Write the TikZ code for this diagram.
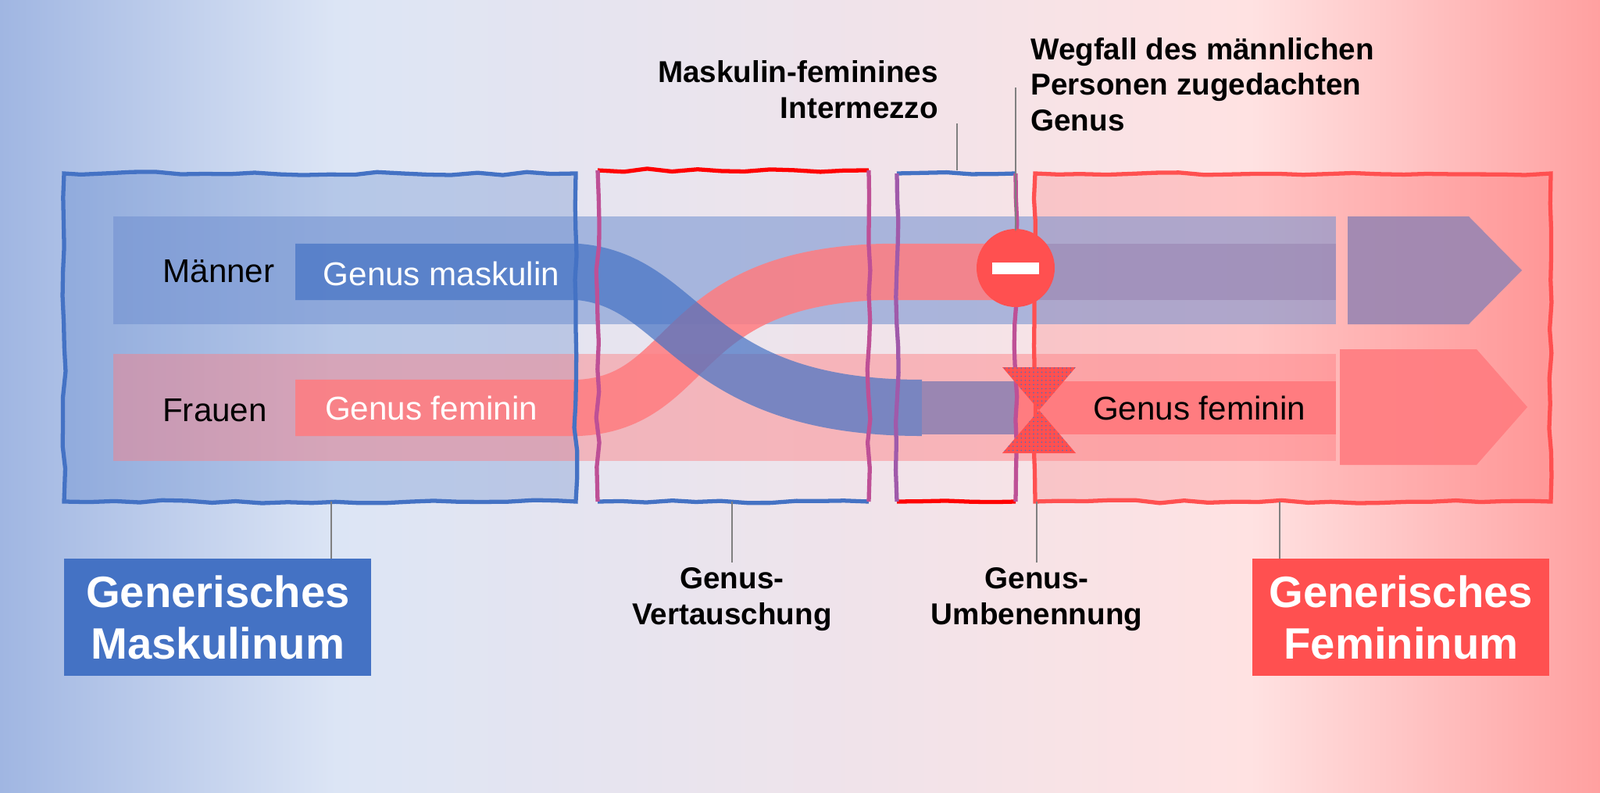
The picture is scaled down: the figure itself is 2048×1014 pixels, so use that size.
\documentclass[tikz,border=0pt]{standalone}
\usepackage{fontspec}
\setmainfont{Liberation Sans}
\usetikzlibrary{decorations.pathmorphing,patterns}
\definecolor{gmblue}{HTML}{4472C4}
\definecolor{gfred}{HTML}{FF5050}
\definecolor{bandblue}{HTML}{6F8FD0}
\definecolor{bandred}{HTML}{FF7C80}
\definecolor{mixpurple}{HTML}{9A86B2}
\definecolor{sidepurple}{HTML}{BE5096}
\definecolor{sideviolet}{HTML}{A05AAA}
\definecolor{bgblue}{HTML}{A0B6E2}
\definecolor{bglight}{HTML}{DCE5F5}
\definecolor{bgpink}{HTML}{FFE2E2}
\definecolor{bgred}{HTML}{FFA0A0}
\tikzset{
  wavy/.style={line width=3pt,decorate,decoration={random steps,segment length=18,amplitude=1.2}},
  leader/.style={draw=gray,line width=0.6pt},
  lbl/.style={font=\bfseries\fontsize{22}{26}\selectfont,align=center},
  bigbox/.style={text=white,font=\bfseries\fontsize{32}{38}\selectfont,align=center,minimum width=393*0.02cm,minimum height=150*0.02cm},
  band/.style={font=\fontsize{24}{28}\selectfont}
}
\begin{document}
\begin{tikzpicture}[x=0.02cm,y=-0.02cm]
\useasboundingbox (0,0) rectangle (2048,1014);
% background
\shade[left color=bgblue,right color=bglight] (0,0) rectangle (430,1014);
\shade[left color=bglight,right color=bgpink] (430,0) rectangle (1600,1014);
\shade[left color=bgpink,right color=bgred] (1600,0) rectangle (2048,1014);
% boxes fill
\fill[gmblue,opacity=0.25] (82,222) rectangle (737,642);
\fill[gfred,opacity=0.2] (1325,222) rectangle (1985,642);
% bands
\fill[bandblue,opacity=0.55] (145,277) rectangle (1710,415);
\fill[bandred,opacity=0.45] (145,453) rectangle (1710,590);
\fill[mixpurple,opacity=0.9] (1725,277) -- (1880,277) -- (1948,346) -- (1880,415) -- (1725,415) -- cycle;
\fill[bandred,opacity=0.9] (1715,447) -- (1890,447) -- (1955,521) -- (1890,595) -- (1715,595) -- cycle;
% genus curves
\draw[bandred,opacity=0.85,line width=41pt] (378,522) -- (740,522) .. controls (890,515) and (860,355) .. (1130,348) -- (1330,348);
\draw[gmblue,opacity=0.7,line width=41pt] (378,348) -- (740,348) .. controls (880,360) and (880,522) .. (1180,522);
\fill[mixpurple] (1180,488) rectangle (1300,556);
\fill[bandred] (1300,488) rectangle (1710,556);
\fill[mixpurple,opacity=0.6] (1330,312) rectangle (1710,384);
% wavy boxes
\draw[wavy,gmblue] (82,222) rectangle (737,642);
\draw[wavy,red] (765,218) -- (1112,218);
\draw[wavy,gmblue] (765,642) -- (1112,642);
\draw[wavy,sidepurple] (765,218) -- (765,642);
\draw[wavy,sidepurple] (1112,218) -- (1112,642);
\draw[wavy,gmblue] (1148,222) -- (1300,222);
\draw[wavy,red] (1148,642) -- (1300,642);
\draw[wavy,sideviolet] (1148,222) -- (1148,642);
\draw[wavy,sidepurple] (1300,222) -- (1300,642);
\draw[wavy,gfred] (1325,222) rectangle (1985,642);
% symbols
\fill[gfred] (1300,343) circle (50);
\fill[white] (1270,336) rectangle (1330,351);
\fill[pattern=dots,pattern color=gmblue,preaction={fill=gfred}] (1283,470) -- (1377,470) -- (1330,525) -- (1377,580) -- (1283,580) -- (1330,525) -- cycle;
% band texts
\node[band] (men) at (280,347) {Männer};
\node[band] (women) at (275,525) {Frauen};
\node[band,text=white] (gm) at (565,350) {Genus maskulin};
\node[band,text=white] (gf) at (552,522) {Genus feminin};
\node[band] (gf2) at (1535,522) {Genus feminin};
% labels
\node[lbl,align=right,anchor=south east] (inter) at (1207,158) {Maskulin-feminines\\Intermezzo};
\node[lbl,align=left,anchor=north west] (drop) at (1313,42) {Wegfall des männlichen\\Personen zugedachten\\Genus};
\node[lbl] (swap) at (937,767) {Genus-\\Vertauschung};
\node[lbl] (ren) at (1327,767) {Genus-\\Umbenennung};
\node[bigbox,fill=gmblue,anchor=north west] (gmask) at (82,715) {Generisches\\Maskulinum};
\node[bigbox,fill=gfred,anchor=north west,minimum width=380*0.02cm] (gfem) at (1603,715) {Generisches\\Femininum};
% leaders
\coordinate (l1) at (424,642);
\coordinate (l2) at (937,642);
\coordinate (l3) at (1327,642);
\coordinate (l4) at (1638,642);
\coordinate (l5) at (1225,218);
\coordinate (l6) at (1300,295);
\draw[leader] (l1) -- (gmask.north -| l1);
\draw[leader] (l2) -- (swap.north -| l2);
\draw[leader] (l3) -- (ren.north -| l3);
\draw[leader] (l4) -- (gfem.north -| l4);
\draw[leader] (l5) -- (inter.south -| l5);
\draw[leader] (l6) -- (1300,112);
\end{tikzpicture}
\end{document}
